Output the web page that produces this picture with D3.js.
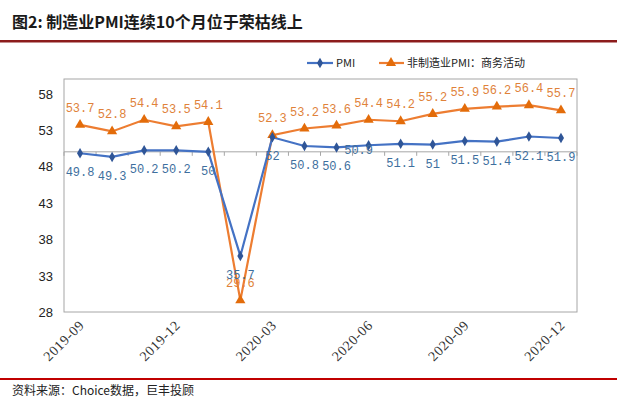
<!DOCTYPE html>
<html>
<head>
<meta charset="utf-8">
<script src="https://cdn.jsdelivr.net/npm/d3@7"></script>
<style>
  body { margin: 0; background: #fff; }
  svg { display: block; }
</style>
</head>
<body>
<svg id="chart" width="617" height="402"></svg>
<script>
const months = ["2019-09","2019-10","2019-11","2019-12","2020-01","2020-02","2020-03","2020-04",
  "2020-05","2020-06","2020-07","2020-08","2020-09","2020-10","2020-11","2020-12"];
const pmi = [49.8, 49.3, 50.2, 50.2, 50.0, 35.7, 52.0, 50.8, 50.6, 50.9, 51.1, 51.0, 51.5, 51.4, 52.1, 51.9];
const nonMfg = [53.7, 52.8, 54.4, 53.5, 54.1, 29.6, 52.3, 53.2, 53.6, 54.4, 54.2, 55.2, 55.9, 56.2, 56.4, 55.7];
const yTicks = [28, 33, 38, 43, 48, 53, 58];
const xLabels = ["2019-09", "2019-12", "2020-03", "2020-06", "2020-09", "2020-12"];

const svg = d3.select("#chart");
const plotL = 64, plotR = 577, plotT = 79, plotB = 312;

// 标题
svg.append("text")
  .attr("x", 12).attr("y", 28)
  .attr("font-family", "'Noto Sans CJK SC', sans-serif")
  .attr("font-size", 16).attr("font-weight", "bold")
  .attr("fill", "#1a1a1a")
  .text("图2: 制造业PMI连续10个月位于荣枯线上");
svg.append("rect").attr("x", 0).attr("y", 40).attr("width", 617).attr("height", 2.5).attr("fill", "#8c1c1c");

const x = d3.scaleBand().domain(months).range([plotL, plotR]);
const y = d3.scaleLinear().domain([28, 60]).range([plotB, plotT]);
const cx = d => x(d) + x.bandwidth() / 2;

// 绘图区边框
svg.append("rect")
  .attr("x", plotL).attr("y", plotT)
  .attr("width", plotR - plotL).attr("height", plotB - plotT)
  .attr("fill", "none").attr("stroke", "#a6a6a6");

// y轴
svg.append("g").selectAll("text")
  .data(yTicks).enter().append("text")
  .attr("x", 53).attr("y", d => y(d) + 5)
  .attr("text-anchor", "end")
  .attr("font-family", "'Liberation Sans', Arial, sans-serif")
  .attr("font-size", 13).attr("fill", "#222")
  .text(d => d);

// x轴 (交叉于50)
const axisY = y(50);
svg.append("line")
  .attr("x1", plotL).attr("x2", plotR).attr("y1", axisY).attr("y2", axisY)
  .attr("stroke", "#a6a6a6");
svg.append("g").selectAll("line")
  .data(d3.range(months.length + 1)).enter().append("line")
  .attr("x1", i => plotL + i * x.bandwidth()).attr("x2", i => plotL + i * x.bandwidth())
  .attr("y1", axisY).attr("y2", axisY + 4)
  .attr("stroke", "#a6a6a6");

svg.append("g").selectAll("text")
  .data(xLabels).enter().append("text")
  .attr("transform", d => `translate(${cx(d) + 5},${plotB + 14}) rotate(-45)`)
  .attr("text-anchor", "end")
  .attr("font-family", "'Liberation Serif', 'DejaVu Serif', serif")
  .attr("font-size", 14).attr("letter-spacing", 0.6).attr("fill", "#333")
  .text(d => d);

const line = d3.line().x((d, i) => cx(months[i])).y(d => y(d));

// 非制造业
svg.append("path").datum(nonMfg)
  .attr("d", line).attr("fill", "none")
  .attr("stroke", "#ed7d31").attr("stroke-width", 2.2);
// PMI
svg.append("path").datum(pmi)
  .attr("d", line).attr("fill", "none")
  .attr("stroke", "#4472c4").attr("stroke-width", 2.2);

const tri = d3.symbol().type(d3.symbolTriangle).size(45);
const dia = d3.symbol().type(d3.symbolDiamond).size(32);

svg.append("g").selectAll("path")
  .data(nonMfg).enter().append("path")
  .attr("d", tri)
  .attr("transform", (d, i) => `translate(${cx(months[i])},${y(d)})`)
  .attr("fill", "#e36c0a");
svg.append("g").selectAll("path")
  .data(pmi).enter().append("path")
  .attr("d", dia)
  .attr("transform", (d, i) => `translate(${cx(months[i])},${y(d)})`)
  .attr("fill", "#2f5597");

const fmt = d => (d % 1 === 0 ? d3.format("d")(d) : d3.format(".1f")(d));

svg.append("g").selectAll("text")
  .data(nonMfg).enter().append("text")
  .attr("x", (d, i) => cx(months[i]))
  .attr("y", d => y(d) - 13)
  .attr("text-anchor", "middle")
  .attr("font-family", "'Liberation Mono', monospace")
  .attr("font-size", 12).attr("fill", "#e0823a")
  .text(fmt);

// 2020-06 的标签在原图中偏左上
svg.append("g").selectAll("text")
  .data(pmi).enter().append("text")
  .attr("x", (d, i) => cx(months[i]) + (i === 9 ? -10 : 0))
  .attr("y", (d, i) => y(d) + (i === 9 ? 9 : 23))
  .attr("text-anchor", "middle")
  .attr("font-family", "'Liberation Mono', monospace")
  .attr("font-size", 12).attr("fill", "#3e6f9e")
  .text(fmt);

// 图例
const lg = svg.append("g").attr("font-family", "'Noto Sans CJK SC', serif").attr("font-size", 11).attr("fill", "#222");
lg.append("line").attr("x1", 307).attr("x2", 333).attr("y1", 63).attr("y2", 63).attr("stroke", "#4472c4").attr("stroke-width", 2.2);
lg.append("path").attr("d", dia).attr("transform", "translate(320,63)").attr("fill", "#2f5597");
lg.append("text").attr("x", 336).attr("y", 67).text("PMI");
lg.append("line").attr("x1", 379).attr("x2", 404).attr("y1", 63).attr("y2", 63).attr("stroke", "#ed7d31").attr("stroke-width", 2.2);
lg.append("path").attr("d", tri).attr("transform", "translate(391,63)").attr("fill", "#e36c0a");
lg.append("text").attr("x", 407).attr("y", 67).text("非制造业PMI：商务活动");

// 底部
svg.append("rect").attr("x", 0).attr("y", 378).attr("width", 617).attr("height", 2).attr("fill", "#c00000");
svg.append("text")
  .attr("x", 12).attr("y", 395)
  .attr("font-family", "'Noto Sans CJK SC', sans-serif")
  .attr("font-size", 12).attr("fill", "#222")
  .text("资料来源：Choice数据，巨丰投顾");
</script>
</body>
</html>
